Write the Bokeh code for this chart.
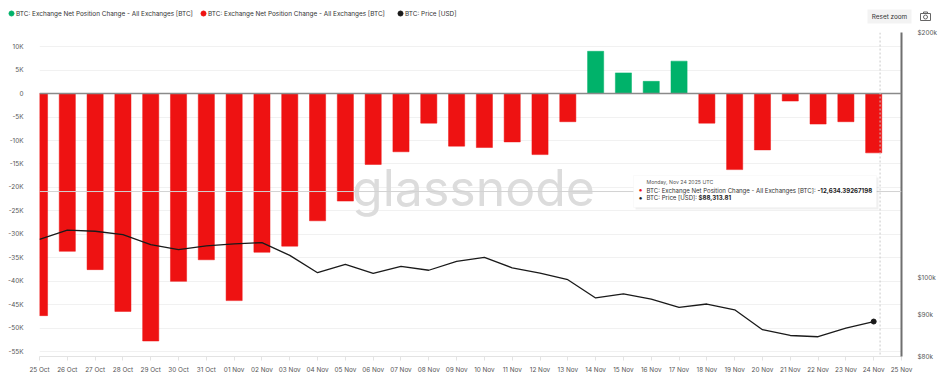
import pandas as pd
from bokeh.plotting import figure
from bokeh.layouts import column
from bokeh.models import (Range1d, LogAxis, LogScale, FixedTicker, DatetimeTickFormatter,
                          DaysTicker, Span, Label, BoxAnnotation, ColumnDataSource)
from bokeh.embed import file_html
from bokeh.resources import INLINE

# ---------------- data ----------------
dates = ["2025-10-25", "2025-10-26", "2025-10-27", "2025-10-28", "2025-10-29", "2025-10-30",
         "2025-10-31", "2025-11-01", "2025-11-02", "2025-11-03", "2025-11-04", "2025-11-05",
         "2025-11-06", "2025-11-07", "2025-11-08", "2025-11-09", "2025-11-10", "2025-11-11",
         "2025-11-12", "2025-11-13", "2025-11-14", "2025-11-15", "2025-11-16", "2025-11-17",
         "2025-11-18", "2025-11-19", "2025-11-20", "2025-11-21", "2025-11-22", "2025-11-23",
         "2025-11-24"]
net_change = [-47300, -33600, -37500, -46400, -52700, -40000, -35400, -44100, -33800, -32500,
              -27100, -22900, -15100, -12400, -6300, -11200, -11500, -10300, -13000, -6000,
              9000, 4400, 2600, 6900, -6300, -16200, -12000, -1600, -6500, -6000, -12634.39267198]
price = [111400, 114400, 114000, 112900, 109800, 108200, 109400, 110000, 110400, 106500,
         101400, 103800, 101200, 103200, 102100, 104700, 105900, 102800, 101300, 99400,
         94400, 95500, 94100, 91900, 92800, 91300, 86300, 84900, 84600, 86700, 88313.81]

x_start, x_end = "2025-10-25", "2025-11-25"
left_ticks = [10000, 5000, 0, -5000, -10000, -15000, -20000, -25000, -30000, -35000,
              -40000, -45000, -50000, -55000]
left_tick_labels = ["10K", "5K", "0", "-5K", "-10K", "-15K", "-20K", "-25K", "-30K", "-35K",
                    "-40K", "-45K", "-50K", "-55K"]
price_ticks = [80000, 90000, 100000, 200000]
price_tick_labels = ["$80k", "$90k", "$100k", "$200k"]

series_names = ["BTC: Exchange Net Position Change - All Exchanges [BTC]",
                "BTC: Exchange Net Position Change - All Exchanges [BTC]",
                "BTC: Price [USD]"]
hover_date = "2025-11-24 05:30"
hover_value = -20870
tooltip_title = "Monday, Nov 24 2025 UTC"
tooltip_values = ["-12,634.39267198", "$88,313.81"]

GREEN = "#00B26A"
RED = "#EE1212"
BLACK = "#1a1a1a"
FONT = "Inter"

# ---------------- header (legend + reset zoom) ----------------
W, HH = 940, 27
hdr = figure(width=W, height=HH, output_backend="svg", toolbar_location=None,
             x_range=Range1d(0, W), y_range=Range1d(0, HH), min_border=0,
             x_axis_location=None, y_axis_location=None)
hdr.frame_align = False
hdr.grid.visible = False
hdr.outline_line_color = None

leg_x = [11, 203, 400]
leg_colors = [GREEN, RED, BLACK]
leg_y = HH - 13
hdr.scatter(x=leg_x, y=[leg_y] * 3, size=5, color=leg_colors)
for lx, name in zip(leg_x, series_names):
    hdr.add_layout(Label(x=lx + 4.5, y=leg_y, text=name, text_font=FONT,
                         text_font_size="6.4px", text_color="#333333",
                         text_baseline="middle"))
# reset zoom button
hdr.quad(left=867, right=911, bottom=HH - 23, top=HH - 9, fill_color="#f3f3f3",
         line_color=None)
hdr.add_layout(Label(x=889, y=HH - 16, text="Reset zoom", text_font=FONT,
                     text_font_size="6.4px", text_color="#333333",
                     text_align="center", text_baseline="middle"))
# camera icon
hdr.quad(left=920, right=930, bottom=HH - 20, top=HH - 13, fill_color=None,
         line_color="#666666", line_width=1)
hdr.quad(left=923, right=927, bottom=HH - 13, top=HH - 11.5, fill_color=None,
         line_color="#666666", line_width=1)
hdr.scatter(x=[925], y=[HH - 16.5], size=4, fill_color=None, line_color="#666666")

# ---------------- main chart ----------------
xs = pd.to_datetime(dates)
pos = [(d, v) for d, v in zip(xs, net_change) if v >= 0]
neg = [(d, v) for d, v in zip(xs, net_change) if v < 0]
pos_src = ColumnDataSource(dict(x=[d for d, _ in pos], v=[v for _, v in pos]))
neg_src = ColumnDataSource(dict(x=[d for d, _ in neg], v=[v for _, v in neg]))
price_src = ColumnDataSource(dict(x=xs, p=price))

p = figure(width=W, height=385 - HH, x_axis_type="datetime", output_backend="svg",
           toolbar_location=None, title=None,
           x_range=Range1d(pd.Timestamp(x_start), pd.Timestamp(x_end)),
           y_range=Range1d(-56000, 13000),
           min_border_left=39, min_border_right=33, min_border_top=5, min_border_bottom=29)
p.frame_align = False
p.extra_y_ranges = {"price": Range1d(80000, 200000)}
p.extra_y_scales = {"price": LogScale()}
p.outline_line_color = None
p.background_fill_color = "white"

bar_w = 0.58 * 86400000
p.vbar(x="x", top="v", width=bar_w, source=neg_src, fill_color=RED, line_color=RED, line_width=0.5)
p.vbar(x="x", top="v", width=bar_w, source=pos_src, fill_color=GREEN, line_color=GREEN, line_width=0.5)

# zero line & crosshair
p.add_layout(Span(location=0, dimension="width", line_color="#8a8a8a", line_width=1.5))
p.add_layout(Span(location=hover_value, dimension="width", line_color="#d2d2d2", line_width=1))
p.add_layout(Span(location=pd.Timestamp(hover_date).value / 1e6, dimension="height",
                  line_color="#c8c8c8", line_width=1, line_dash="2 2"))

p.line(x="x", y="p", source=price_src, y_range_name="price", line_color=BLACK, line_width=1.3)
last_src = ColumnDataSource(dict(x=xs[-1:], p=price[-1:]))
p.scatter(x="x", y="p", source=last_src, y_range_name="price", size=5, color=BLACK)

# axes
p.xaxis.ticker = DaysTicker(days=list(range(1, 32)))
p.xaxis.formatter = DatetimeTickFormatter(days="%d %b")
p.xaxis.axis_line_color = "#e3e3e3"
p.xaxis.major_tick_line_color = "#e3e3e3"
p.xaxis.major_tick_out = 4
p.xaxis.major_tick_in = 0
p.xaxis.minor_tick_line_color = None
p.xaxis.major_label_text_font = FONT
p.xaxis.major_label_text_font_size = "6.4px"
p.xaxis.major_label_text_color = "#555555"
p.xaxis.major_label_standoff = 5

p.yaxis.ticker = FixedTicker(ticks=left_ticks)
p.yaxis.major_label_overrides = {t: l for t, l in zip(left_ticks, left_tick_labels)}
p.yaxis.axis_line_color = None
p.yaxis.major_tick_line_color = None
p.yaxis.minor_tick_line_color = None
p.yaxis.major_label_text_font = FONT
p.yaxis.major_label_text_font_size = "6.4px"
p.yaxis.major_label_text_color = "#555555"
p.yaxis.major_label_standoff = 10

rax = LogAxis(y_range_name="price", ticker=FixedTicker(ticks=price_ticks))
rax.major_label_overrides = {t: l for t, l in zip(price_ticks, price_tick_labels)}
rax.axis_line_color = "#6f6f6f"
rax.axis_line_width = 2
rax.major_tick_line_color = None
rax.minor_tick_line_color = None
rax.major_label_text_font = FONT
rax.major_label_text_font_size = "6.4px"
rax.major_label_text_color = "#555555"
rax.major_label_standoff = 10
p.add_layout(rax, "right")

p.xgrid.grid_line_color = None
p.ygrid.grid_line_color = "#f1f1f1"

# watermark
p.add_layout(Label(x=434, y=169, x_units="screen", y_units="screen", text="glassnode",
                   text_font=FONT, text_font_size="50px", text_color="#dcdcdc",
                   text_align="center", text_baseline="middle", level="underlay"))

# tooltip
p.add_layout(BoxAnnotation(left=596, right=839, bottom=147, top=179, left_units="screen",
                           right_units="screen", bottom_units="screen", top_units="screen",
                           fill_color="black", fill_alpha=0.06, line_color=None))
p.add_layout(BoxAnnotation(left=594, right=837, bottom=149, top=181, left_units="screen",
                           right_units="screen", bottom_units="screen", top_units="screen",
                           fill_color="white", fill_alpha=1, line_color="#eeeeee", line_width=1))
p.add_layout(Label(x=607, y=175, x_units="screen", y_units="screen", text=tooltip_title,
                   text_font=FONT, text_font_size="5.2px", text_color="#555555",
                   text_baseline="middle"))
for ty, c, name, val, vx in [(166.5, RED, series_names[1], tooltip_values[0], 778),
                             (159, BLACK, series_names[2], tooltip_values[1], 659)]:
    p.add_layout(Label(x=601, y=ty, x_units="screen", y_units="screen", text="●",
                       text_color=c, text_font_size="6px", text_align="center",
                       text_baseline="middle"))
    p.add_layout(Label(x=607, y=ty, x_units="screen", y_units="screen", text=name + ":",
                       text_font=FONT, text_font_size="6.05px", text_color="#333333",
                       text_baseline="middle"))
    p.add_layout(Label(x=vx, y=ty, x_units="screen", y_units="screen", text=val,
                       text_font=FONT, text_font_size="6.1px", text_color="#222222",
                       text_font_style="bold", text_baseline="middle"))

layout = column(hdr, p, spacing=0)
open("out.html", "w").write(file_html(layout, INLINE))
